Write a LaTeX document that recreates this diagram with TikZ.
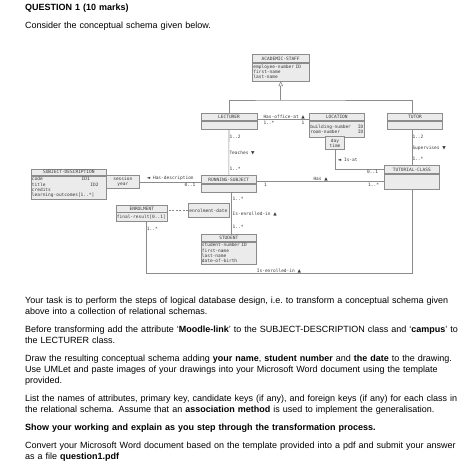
\documentclass[tikz,border=0pt]{standalone}
\usepackage{fontspec}
\setmainfont{Liberation Sans}
\newfontfamily\umlfont{DejaVu Sans Mono}
\newfontfamily\umlsym{DejaVu Sans}
\usepackage{tikz}
\usetikzlibrary{arrows.meta,positioning,calc}
\definecolor{umlfill}{HTML}{EBEBEB}
\definecolor{umlline}{HTML}{8C8C8C}
\definecolor{umltext}{HTML}{3A3A3A}
\newcommand{\triup}{{\umlsym ▲}}
\newcommand{\tridn}{{\umlsym ▼}}
\newcommand{\trilf}{{\umlsym ◄}}

\begin{document}
\begin{tikzpicture}[x=1pt, y=-1pt,
    every node/.style={inner sep=0pt},
    txt/.style={font=\fontsize{9}{11}\selectfont, text width=460pt, align=left, anchor=base west},
    uml/.style={font=\umlfont\fontsize{4.5}{5.3}\selectfont, text=umltext},
    title/.style={uml, draw=umlline, fill=umlfill, line width=0.6pt, minimum width=#1, minimum height=7.5pt},
    attrs/.style={uml, draw=umlline, fill=umlfill, line width=0.6pt, minimum width=#1, text width=#1-2pt, align=left, anchor=north, inner xsep=1pt},
    note/.style={uml, draw=umlline, fill=umlfill, line width=0.6pt, align=center},
    lab/.style={uml, anchor=west},
    link/.style={draw=umlline, line width=0.6pt},
    gen/.style={link, -{Triangle[open, length=5pt, width=4.6pt]}},
    dashlink/.style={link, dash pattern=on 2pt off 1.5pt}
  ]
  \path[use as bounding box, fill=white] (0,0) rectangle (474,472);

  % question text
  \node[txt] (head) at (25,10) {\textbf{QUESTION 1 (10 marks)}};
  \node[txt] (intro) at (25,28) {Consider the conceptual schema given below.};

  % classes
  \node[title=56.5pt] (acad) at (280.7,58.5) {ACADEMIC-STAFF};
  \node[attrs=56.5pt, minimum height=18pt, below=0pt of acad] (acad-a) {employee-number ID\\first-name\\last-name};
  \node[title=56pt] (lect) at (229,117) {LECTURER};
  \node[attrs=56pt, minimum height=8pt, below=0pt of lect] (lect-a) {};
  \node[title=55pt] (loc) at (336.8,117) {LOCATION};
  \node[attrs=55pt, minimum height=15.6pt, below=0pt of loc] (loc-a) {building-number\hfill ID\\room-number\hfill ID};
  \node[note, minimum width=18.6pt, minimum height=12.6pt] (slot) at (335,143) {day\\time};
  \node[title=55.4pt] (tutor) at (415,117) {TUTOR};
  \node[attrs=55.4pt, minimum height=8pt, below=0pt of tutor] (tutor-a) {};
  \node[title=55pt] (tcls) at (411.8,169.5) {TUTORIAL-CLASS};
  \node[attrs=55pt, minimum height=15pt, below=0pt of tcls] (tcls-a) {};
  \node[title=55.7pt] (rsub) at (228.8,179.5) {RUNNING-SUBJECT};
  \node[attrs=55.7pt, minimum height=8.4pt, below=0pt of rsub] (rsub-a) {};
  \node[title=75.7pt, minimum height=6.7pt] (sdesc) at (68.8,172.3) {SUBJECT-DESCRIPTION};
  \node[attrs=75.7pt, minimum height=22.6pt, below=0pt of sdesc] (sdesc-a) {code\hspace{38.9pt}ID1\\title\hspace{45pt}ID2\\credits\\learning-outcomes[1..*]};
  \node[note, minimum width=32.3pt, minimum height=12.6pt] (sess) at (122.8,182) {session\\year};
  \node[title=51.7pt, minimum height=7pt] (enrol) at (141.8,208.5) {ENROLMENT};
  \node[attrs=51.7pt, minimum height=8.7pt, below=0pt of enrol] (enrol-a) {final-result[0..1]};
  \node[note, minimum width=41pt, minimum height=14pt, text width=39pt, align=left] (edate) at (208.8,210.7) {enrolment-date};
  \node[title=55.7pt, minimum height=7.4pt] (stud) at (228.8,238) {STUDENT};
  \node[attrs=55.7pt, minimum height=21.6pt, below=0pt of stud] (stud-a) {student-number ID\\first-name\\last-name\\date-of-birth};

  % generalisation
  \coordinate (gj) at (280.7,100);
  \draw[gen] (gj) -- (acad-a.south);
  \draw[link] (lect.north) |- (gj) -| (tcls.north |- tutor.north);

  % associations
  \draw[link] ([yshift=-2pt]lect.east) -- ([yshift=-2pt]loc.west);
  \draw[link] (lect-a.south) -- (rsub.north);
  \draw[link] (tcls.north |- tutor-a.south) -- (tcls.north);
  \draw[link] (slot.south) |- (tcls.west);
  \coordinate (hasL) at ([yshift=-1.7pt]rsub.east);
  \draw[link] (hasL) -- (hasL -| tcls-a.west);
  \draw[link] (sess.east) -- (sess.east -| rsub.west);
  \coordinate (stuL) at ([xshift=2pt]rsub-a.south);
  \draw[link] (stuL) -- (stuL |- stud.north);
  \draw[dashlink] (edate.west) -- (edate.west -| enrol.east);
  \coordinate (enL) at ([xshift=4pt]enrol-a.south);
  \coordinate (rail) at (0,273.7);
  \draw[link] (enL) |- (rail -| tcls-a.south) -- (tcls-a.south);

  % labels and multiplicities
  \node[lab] (l-hoa) at (263.3,116.7) {Has-office-at \triup};
  \node[lab] (m-hoa1) at (263.3,122.7) {1..*};
  \node[lab] (m-hoa2) at (301.5,122.7) {1};
  \node[lab] (m-te1) at (229.5,137.3) {1..2};
  \node[lab] (l-te) at (229.3,153.3) {Teaches \tridn};
  \node[lab] (m-te2) at (229.5,168.7) {1..*};
  \node[lab] (m-su1) at (412.3,137.3) {1..2};
  \node[lab] (l-su) at (412.3,148.7) {Supervises \tridn};
  \node[lab] (m-su2) at (412.3,159) {1..*};
  \node[lab] (l-at) at (337.7,160) {\trilf{} Is-at};
  \node[lab] (m-at) at (367,171.7) {0..1};
  \node[lab] (l-has) at (313.3,178.7) {Has \triup};
  \node[lab] (m-has1) at (264,185) {1};
  \node[lab] (m-has2) at (368,185) {1..*};
  \node[lab] (l-hd) at (146.7,178.7) {\trilf{} Has-description};
  \node[lab] (m-hd) at (184.3,185) {0..1};
  \node[lab] (m-ei1) at (232.5,199.3) {1..*};
  \node[lab] (l-ei) at (232.5,214) {Is-enrolled-in \triup};
  \node[lab] (m-ei2) at (232.5,227.3) {1..*};
  \node[lab] (m-en) at (146.7,228.7) {1..*};
  \node[lab] (l-en) at (256.7,270.7) {Is-enrolled-in \triup};

  % task text
  \node[txt] (task) at (25,303) {Your task is to perform the steps of logical database design, i.e.\ to transform a conceptual schema given\\above into a collection of relational schemas.};
  \node[txt] (attrib) at (25,332) {Before transforming add the attribute ‘\textbf{Moodle-link}’ to the SUBJECT-DESCRIPTION class and ‘\textbf{campus}’ to\\the LECTURER class.};
  \node[txt] (drawing) at (25,361) {Draw the resulting conceptual schema adding \textbf{your name}, \textbf{student number} and \textbf{the date} to the drawing.\\Use UMLet and paste images of your drawings into your Microsoft Word document using the template\\provided.};
  \node[txt] (list) at (25,401) {List the names of attributes, primary key, candidate keys (if any), and foreign keys (if any) for each class in\\the relational schema. Assume that an \textbf{association method} is used to implement the generalisation.};
  \node[txt] (show) at (25,430) {\textbf{Show your working and explain as you step through the transformation process.}};
  \node[txt] (submit) at (25,448) {Convert your Microsoft Word document based on the template provided into a pdf and submit your answer\\as a file \textbf{question1.pdf}};
\end{tikzpicture}
\end{document}
